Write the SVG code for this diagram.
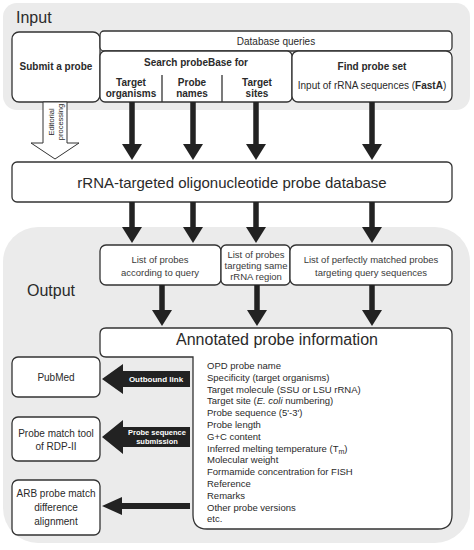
<svg xmlns="http://www.w3.org/2000/svg" width="474" height="550" viewBox="0 0 474 550">
<style>
text{font-family:"Liberation Sans",Arial,sans-serif;fill:#2a2a2a}
.panel{fill:#ebebeb}
.box{fill:#fff;stroke:#333;stroke-width:1.3}
.sep{stroke:#333;stroke-width:1.3;fill:none}
.arr{fill:#222}
.s10{font-size:10px}
.b{font-weight:bold}
.lt{font-size:9.5px;fill:#3a3a3a}
.w{fill:#fff;font-weight:bold}
.c{text-anchor:middle}
</style>
<rect class="panel" x="3" y="3" width="467" height="107" rx="14"/>
<rect class="panel" x="3" y="227" width="467" height="316" rx="35"/>
<text x="16" y="23" font-size="16">Input</text>
<text x="27" y="296" font-size="16">Output</text>

<g id="submit">
<rect class="box" x="12" y="32" width="88" height="70" rx="7"/>
<text class="s10 b c" x="56" y="70">Submit a probe</text>
</g>
<g id="dbqueries">
<rect class="box" x="100" y="31" width="352" height="20" rx="4"/>
<text class="s10 c" x="276" y="45">Database queries</text>
</g>
<g id="search">
<rect class="box" x="100" y="51" width="192" height="51" rx="5"/>
<line class="sep" x1="162" y1="75" x2="162" y2="102"/>
<line class="sep" x1="222" y1="75" x2="222" y2="102"/>
<text class="s10 b c" x="196" y="66">Search probeBase for</text>
<text class="s10 b c" x="131" y="86">Target</text>
<text class="s10 b c" x="131" y="97">organisms</text>
<text class="s10 b c" x="192" y="86">Probe</text>
<text class="s10 b c" x="192" y="97">names</text>
<text class="s10 b c" x="257" y="86">Target</text>
<text class="s10 b c" x="257" y="97">sites</text>
</g>
<g id="findset">
<rect class="box" x="292" y="51" width="160" height="51" rx="6"/>
<text class="s10 b c" x="372" y="70">Find probe set</text>
<text class="s10 c" x="372" y="89">Input of rRNA sequences (<tspan class="b">FastA</tspan>)</text>
</g>
<g id="database">
<rect class="box" x="12" y="162" width="440" height="40" rx="5"/>
<text class="c" x="232" y="188" font-size="15">rRNA-targeted oligonucleotide probe database</text>
</g>
<g id="list1">
<rect class="box" x="100" y="245" width="121" height="40" rx="6"/>
<text class="lt c" x="160" y="263">List of probes</text>
<text class="lt c" x="160" y="276">according to query</text>
</g>
<g id="list2">
<rect class="box" x="221" y="245" width="69" height="40" rx="5"/>
<text class="lt c" x="256" y="258">List of probes</text>
<text class="lt c" x="256" y="269">targeting same</text>
<text class="lt c" x="256" y="280">rRNA region</text>
</g>
<g id="list3">
<rect class="box" x="290" y="245" width="162" height="40" rx="6"/>
<text class="lt c" x="371" y="263">List of perfectly matched probes</text>
<text class="lt c" x="371" y="276">targeting query sequences</text>
</g>
<g id="annotated">
<path class="box" d="M106 328H446Q452 328 452 334V515Q452 529 438 529H207Q193 529 193 515V357H106Q100 357 100 351V334Q100 328 106 328Z"/>
<text class="c" x="277" y="345" font-size="16">Annotated probe information</text>
<g class="lt" font-size="10">
<text x="207" y="369">OPD probe name</text>
<text x="207" y="380.8">Specificity (target organisms)</text>
<text x="207" y="392.6">Target molecule (SSU or LSU rRNA)</text>
<text x="207" y="404.4">Target site (<tspan font-style="italic">E. coli</tspan> numbering)</text>
<text x="207" y="416.2">Probe sequence (5'-3')</text>
<text x="207" y="428">Probe length</text>
<text x="207" y="439.8">G+C content</text>
<text x="207" y="451.6">Inferred melting temperature (T<tspan font-size="7" dy="2">m</tspan><tspan dy="-2">)</tspan></text>
<text x="207" y="463.4">Molecular weight</text>
<text x="207" y="475.2">Formamide concentration for FISH</text>
<text x="207" y="487">Reference</text>
<text x="207" y="498.8">Remarks</text>
<text x="207" y="510.6">Other probe versions</text>
<text x="207" y="522.4">etc.</text>
</g>
</g>
<g id="pubmed">
<rect class="box" x="12" y="357" width="88" height="40" rx="6"/>
<text class="s10 c" x="56" y="381">PubMed</text>
</g>
<g id="rdp">
<rect class="box" x="12" y="417" width="88" height="44" rx="6"/>
<text class="s10 c" x="56" y="437">Probe match tool</text>
<text class="s10 c" x="56" y="450">of RDP-II</text>
</g>
<g id="arb">
<rect class="box" x="12" y="480" width="88" height="55" rx="6"/>
<text class="s10 c" x="56" y="497">ARB probe match</text>
<text class="s10 c" x="56" y="511">difference</text>
<text class="s10 c" x="56" y="525">alignment</text>
</g>

<g id="connectors">
<polygon points="43,102 67,102 67,143 79,143 55,159 31,143 43,143" fill="#fff" stroke="#333" stroke-width="1"/>
<text transform="translate(55,122) rotate(-90)" class="c" font-size="7.5"><tspan x="0" y="-1">Editorial</tspan><tspan x="0" y="8">processing</tspan></text>
<polygon class="arr" points="129.25,102 134.75,102 134.75,144 142,144 132,160 122,144 129.25,144"/>
<polygon class="arr" points="190.25,102 195.75,102 195.75,144 203,144 193,160 183,144 190.25,144"/>
<polygon class="arr" points="253.25,102 258.75,102 258.75,144 266,144 256,160 246,144 253.25,144"/>
<polygon class="arr" points="369.25,102 374.75,102 374.75,144 382,144 372,160 362,144 369.25,144"/>
<polygon class="arr" points="129.25,202 134.75,202 134.75,227 142,227 132,243 122,227 129.25,227"/>
<polygon class="arr" points="190.25,202 195.75,202 195.75,227 203,227 193,243 183,227 190.25,227"/>
<polygon class="arr" points="253.25,202 258.75,202 258.75,227 266,227 256,243 246,227 253.25,227"/>
<polygon class="arr" points="369.25,202 374.75,202 374.75,227 382,227 372,243 362,227 369.25,227"/>
<polygon class="arr" points="159.25,285 164.75,285 164.75,310 172,310 162,326 152,310 159.25,310"/>
<polygon class="arr" points="254.25,285 259.75,285 259.75,310 267,310 257,326 247,310 254.25,310"/>
<polygon class="arr" points="369.25,285 374.75,285 374.75,310 382,310 372,326 362,310 369.25,310"/>
<polygon class="arr" points="102,379 123,364 123,371 190,371 190,387 123,387 123,394"/>
<text class="w c" x="156" y="382" font-size="8">Outbound link</text>
<polygon class="arr" points="102,437 123,420 123,427 190,427 190,447 123,447 123,454"/>
<text class="w c" x="157" y="435" font-size="7.5">Probe sequence</text>
<text class="w c" x="157" y="444" font-size="7.5">submission</text>
<polygon class="arr" points="102,506 122,497 122,503 190,503 190,509 122,509 122,515"/>
</g>
</svg>
